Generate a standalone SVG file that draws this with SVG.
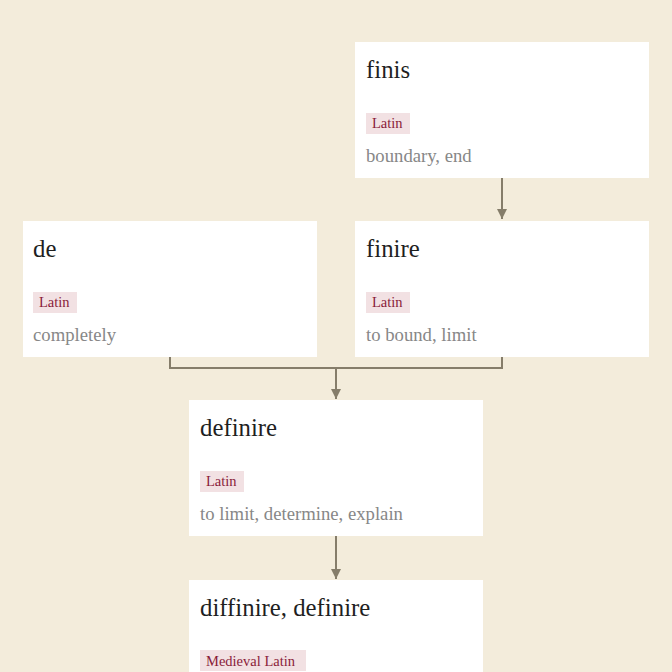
<svg xmlns="http://www.w3.org/2000/svg" width="672" height="672" viewBox="0 0 672 672">
<defs>
<style>
.box{fill:#ffffff;}
.title{font-family:"Liberation Serif","Times New Roman",serif;font-size:24.8px;fill:#1f1f1f;}
.badge{fill:#f2e1e3;}
.lang{font-family:"Liberation Serif","Times New Roman",serif;font-size:14.5px;fill:#8a1c3a;}
.gloss{font-family:"Liberation Serif","Times New Roman",serif;font-size:18.7px;fill:#878787;}
.conn{fill:none;stroke:#857d6a;stroke-width:2;}
</style>
<marker id="arr" viewBox="0 0 10 12" refX="10" refY="6" markerWidth="10" markerHeight="12" markerUnits="userSpaceOnUse" orient="auto">
<path d="M0,1 L10,6 L0,11 Z" fill="#857d6a"/>
</marker>
</defs>
<rect width="672" height="672" fill="#f3ecdb"/>
<g id="connectors">
<path class="conn" d="M502,178 V219" marker-end="url(#arr)"/>
<path class="conn" d="M170,357 V368 H502 V357"/>
<path class="conn" d="M336,368 V399" marker-end="url(#arr)"/>
<path class="conn" d="M336,536 V579" marker-end="url(#arr)"/>
</g>
<g id="node-finis">
<rect class="box" x="355" y="42" width="294" height="136"/>
<text class="title" x="366" y="78">finis</text>
<rect class="badge" x="366" y="113" width="44" height="21"/>
<text class="lang" x="372" y="128">Latin</text>
<text class="gloss" x="366" y="162">boundary, end</text>
</g>
<g id="node-de">
<rect class="box" x="23" y="221" width="294" height="136"/>
<text class="title" x="33" y="257">de</text>
<rect class="badge" x="33" y="292" width="44" height="21"/>
<text class="lang" x="39" y="307">Latin</text>
<text class="gloss" x="33" y="341">completely</text>
</g>
<g id="node-finire">
<rect class="box" x="355" y="221" width="294" height="136"/>
<text class="title" x="366" y="257">finire</text>
<rect class="badge" x="366" y="292" width="44" height="21"/>
<text class="lang" x="372" y="307">Latin</text>
<text class="gloss" x="366" y="341">to bound, limit</text>
</g>
<g id="node-definire">
<rect class="box" x="189" y="400" width="294" height="136"/>
<text class="title" x="200" y="436">definire</text>
<rect class="badge" x="200" y="471" width="44" height="21"/>
<text class="lang" x="206" y="486">Latin</text>
<text class="gloss" x="200" y="520">to limit, determine, explain</text>
</g>
<g id="node-diffinire">
<rect class="box" x="189" y="580" width="294" height="136"/>
<text class="title" x="200" y="616">diffinire, definire</text>
<rect class="badge" x="200" y="650" width="106" height="21"/>
<text class="lang" x="206" y="666">Medieval Latin</text>
</g>
</svg>
